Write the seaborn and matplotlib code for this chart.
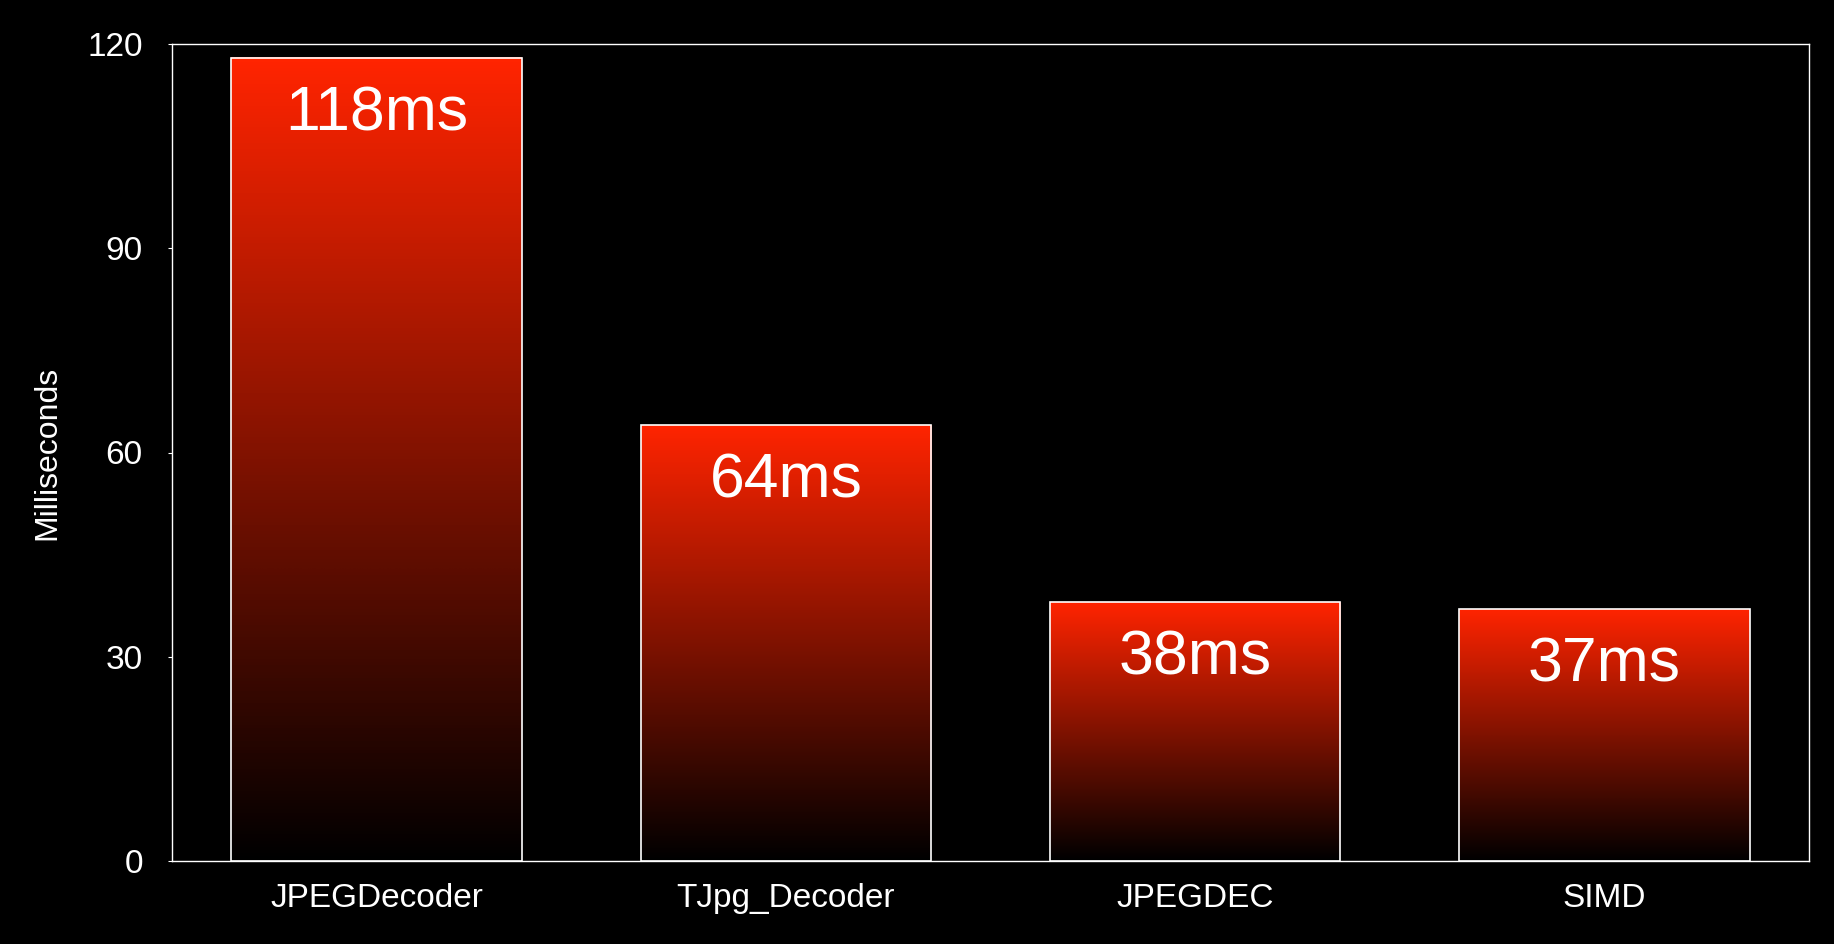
import numpy as np
import pandas as pd
import matplotlib
matplotlib.use("Agg")
import matplotlib.pyplot as plt
import seaborn as sns
from matplotlib.colors import LinearSegmentedColormap


decoders     = ["JPEGDecoder", "TJpg_Decoder", "JPEGDEC", "SIMD"]
times_ms     = [118, 64, 38, 37]
value_labels = ["118ms", "64ms", "38ms", "37ms"]
y_ticks      = [0, 30, 60, 90, 120]


sns.set_theme(style="dark")
plt.rcParams["font.family"] = ["Liberation Sans", "DejaVu Sans"]

fig = plt.figure(figsize=(18.34, 9.44), dpi=100, facecolor="black")
ax  = fig.add_axes([172 / 1834, 1 - 861 / 944, (1809 - 172) / 1834, (861 - 44) / 944])
ax.set_facecolor("black")

df = pd.DataFrame({"decoder": decoders, "ms": times_ms})
sns.barplot(data=df, x="decoder", y="ms", ax=ax, width=0.71,
            color="black", edgecolor="white", linewidth=1.2, saturation=1)

# vertical red -> black fade inside every bar
red_fade = LinearSegmentedColormap.from_list("red_fade", ["#000000", "#ff2400"])
grad     = np.linspace(0, 1, 256).reshape(-1, 1)

for bar, label in zip(ax.patches, value_labels):
    x0, y0 = bar.get_x(), bar.get_y()
    w, h   = bar.get_width(), bar.get_height()
    bar.set_facecolor("none")
    bar.set_zorder(3)
    ax.imshow(grad, cmap=red_fade, origin="lower", aspect="auto",
              extent=[x0, x0 + w, y0, y0 + h], zorder=2, interpolation="bicubic")
    ax.annotate(label, (x0 + w / 2, y0 + h), xytext=(0, -19), textcoords="offset points",
                ha="center", va="top", color="white", fontsize=45, zorder=4)

ax.set_xlim(-0.5, 3.5)
ax.set_ylim(0, 120)
ax.set_yticks(y_ticks)
ax.grid(False)

ax.set_xlabel("")
ax.set_ylabel("Milliseconds", color="white", fontsize=23, labelpad=18)
ax.tick_params(axis="x", colors="white", labelsize=24, length=0, pad=16)
ax.tick_params(axis="y", colors="white", labelsize=24, length=3, width=0.8, pad=18, left=True)

for spine in ax.spines.values():
    spine.set_visible(True)
    spine.set_color("white")
    spine.set_linewidth(1.0)

fig.savefig("out.png", dpi=100, facecolor="black")
